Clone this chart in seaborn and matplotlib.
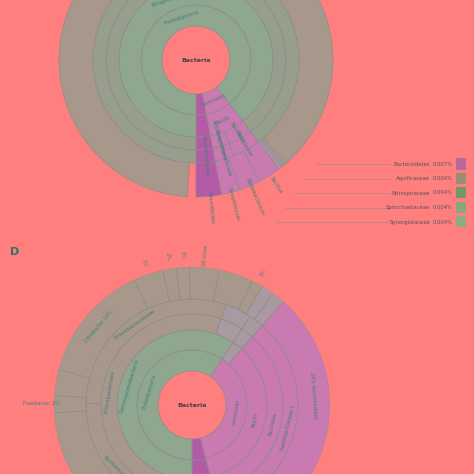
import numpy as np
import matplotlib
matplotlib.use("Agg")
import matplotlib.pyplot as plt
import seaborn as sns

sns.set_style("white")
plt.rcParams["font.family"] = ["DejaVu Sans"]

BG = "#ff7f7f"
EDGE = "#8c8c8c"
GREEN = "#8fa68f"
GREEN2 = "#979f8c"
BROWN = "#a8988b"
PINK = "#c97ab0"
MAGENTA = "#b55aa6"
GRAY = "#a99aa2"

# ring boundaries (px radius) for each chart
top_radii = [34, 55, 77, 90, 103, 137]
bot_radii = [34, 55, 75, 91, 106, 138]

# shares (% of the circle, counter-clockwise starting at south) per ring
top_shares = [
    [3, 7.4, 89.6],
    [3, 7.4, 89.6],
    [3, 3, 4.4, 89.6],
    [3, 3, 4.4, 89.6],
    [3, 2.2, 2.5, 2.7, 0.4, 0.3, 0.3, 87.6],
]
top_colors = [
    [MAGENTA, PINK, GREEN],
    [MAGENTA, PINK, GREEN],
    [MAGENTA, PINK, PINK, GREEN2],
    [MAGENTA, PINK, PINK, GREEN2],
    [MAGENTA, PINK, PINK, PINK, GRAY, GRAY, GRAY, BROWN],
]
top_labels = [
    ["", "Firmicutes", "Proteobacteria"],
    ["", "Bacilli", "Betaproteobacteria"],
    ["", "Actinomycetales", "Bacillales"],
    ["Nocardioidaceae", "Streptomycetaceae", "Bacillaceae"],
    ["Nocardioides", "Streptomyces", "Bifidobacterium", "Bacillus", "", "", "", ""],
]

bot_shares = [
    [4, 36.8, 59.2],
    [4, 34.5, 2.3, 59.2],
    [4, 34.5, 2.3, 4, 55.2],
    [4, 34.5, 2.3, 4, 30, 25.2],
    [4, 10, 24.5, 1.5, 1.5, 1.3, 4, 3.5, 1.5, 1.6, 3.5, 14, 3, 2, 24.6],
]
bot_colors = [
    [MAGENTA, PINK, GREEN],
    [MAGENTA, PINK, GRAY, GREEN],
    [MAGENTA, PINK, GRAY, GRAY, BROWN],
    [MAGENTA, PINK, GRAY, GRAY, BROWN, BROWN],
    [MAGENTA, PINK, PINK, GRAY, GRAY, BROWN, BROWN, BROWN, BROWN, BROWN,
     BROWN, BROWN, BROWN, BROWN, BROWN],
]
bot_labels = [
    ["", "Firmicutes", "Proteobacteria"],
    ["", "Bacilli", "", "Gammaproteobacteria"],
    ["", "Bacillales", "", "", "Enterobacteriales"],
    ["", "Paenibacillaceae 1", "", "", "Enterobacteriaceae", "Xanthomonadaceae"],
    ["", "", "29% Aeromonadus", "", "", "2%", "", "26 more", "1%", "2%", "2%",
     "Citrobacter 14%", "", "Fusobacter 2%", ""],
]

legend_names = ["Bacteroidetes", "Aquificaceae", "Nitrospiraceae",
                "Spirochaetaceae", "Synergistaceae"]
legend_pcts = ["0.007%", "0.004%", "0.004%", "0.004%", "0.004%"]
legend_colors = ["#b46a9c", "#9c8c74", "#6f9a66", "#86a87a", "#8cab82"]

W = 474
fig = plt.figure(figsize=(4.74, 4.74), dpi=100)
fig.patch.set_facecolor(BG)


def sunburst(cx, cy, rmax, radii, shares, colors, labels):
    ax = fig.add_axes([(cx - rmax) / W, 1 - (cy + rmax) / W, 2 * rmax / W, 2 * rmax / W],
                      projection="polar")
    ax.set_theta_zero_location("S")
    ax.set_theta_direction(1)
    ax.set_ylim(0, rmax)
    ax.axis("off")
    for i, ring in enumerate(shares):
        r0, r1 = radii[i], radii[i + 1]
        vals = np.array(ring) / 100 * 2 * np.pi
        starts = np.concatenate([[0], np.cumsum(vals)[:-1]])
        ax.bar(starts, r1 - r0, width=vals, bottom=r0, align="edge",
               color=colors[i], edgecolor=EDGE, linewidth=0.5)
        for s, v, lab in zip(starts, vals, labels[i]):
            if not lab:
                continue
            th = s + v / 2
            deg = np.degrees(th)
            # narrow slices: radial text, wide slices: along the ring
            if v < 0.35:
                rot = deg - 90
                r = r1 + 12 if i == len(shares) - 1 else (r0 + r1) / 2
            else:
                rot = deg
                r = (r0 + r1) / 2
            rot = (rot + 90) % 180 - 90
            ax.text(th, r, lab, fontsize=3.6, color="#3f7f78",
                    ha="center", va="center", rotation=rot)
    ax.text(0, 0, "Bacteria", fontsize=4.5, fontweight="bold", color="#444444",
            ha="center", va="center")
    return ax


sunburst(196, 60, 138, top_radii, top_shares, top_colors, top_labels)
sunburst(192, 405, 138, bot_radii, bot_shares, bot_colors, bot_labels)

# legend of tiny taxa (top chart)
for i, (n, p, c) in enumerate(zip(legend_names, legend_pcts, legend_colors)):
    y = 164 + i * 14.5
    fig.add_artist(plt.Line2D([(315 - i * 10) / W, 390 / W], [1 - y / W] * 2,
                              color="#8c8c8c", lw=0.4))
    fig.text(430 / W, 1 - y / W, n, fontsize=3.8, color="#555555", ha="right", va="center")
    fig.text(433 / W, 1 - y / W, p, fontsize=3.8, color="#555555", ha="left", va="center")
    fig.add_artist(plt.Rectangle((456 / W, 1 - (y + 5.5) / W), 10 / W, 11 / W,
                                 facecolor=c, edgecolor="none"))

fig.text(10 / W, 1 - 252 / W, "D", fontsize=8, fontweight="bold", color="#2f6f6a",
         va="center")

fig.savefig("out.png", dpi=100, facecolor=BG)
